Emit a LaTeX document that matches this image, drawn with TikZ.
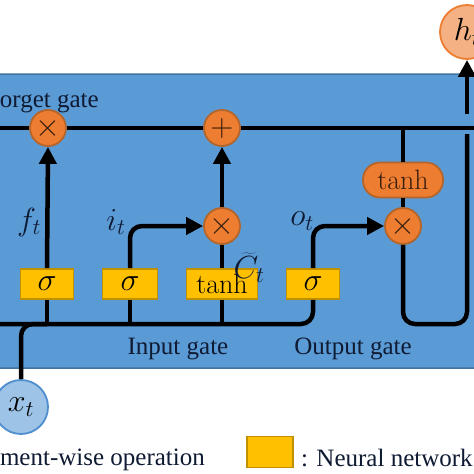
\RequirePackage{fix-cm}
\documentclass[tikz,border=0pt]{standalone}
\usepackage[no-math]{fontspec}
\setmainfont{Liberation Serif}
\usetikzlibrary{arrows.meta}
\definecolor{cellblue}{HTML}{5B9BD5}
\definecolor{cellborder}{HTML}{41719C}
\definecolor{opor}{HTML}{ED7D31}
\definecolor{opborder}{HTML}{B4652A}
\definecolor{opink}{HTML}{3B1F0E}
\definecolor{nngold}{HTML}{FFC000}
\definecolor{nnborder}{HTML}{BF9000}
\definecolor{inblue}{HTML}{9DC3E6}
\definecolor{inborder}{HTML}{4F8FD0}
\definecolor{outor}{HTML}{F4B183}
\definecolor{txtnavy}{HTML}{0F1A33}
\begin{document}
\begin{tikzpicture}[x=1pt,y=-1pt,
  font=\fontsize{25}{30}\selectfont,
  bigm/.style={font=\fontsize{32}{38}\selectfont},
  midm/.style={font=\fontsize{28}{34}\selectfont},
  op/.style={circle, draw=opborder, fill=opor, line width=1.8pt, minimum size=36pt, inner sep=0pt, text=opink},
  nn/.style={rectangle, draw=nnborder, fill=nngold, line width=1.8pt, minimum height=30pt, inner sep=0pt},
  tanhop/.style={rectangle, rounded corners=17pt, draw=opborder, fill=opor, line width=1.8pt, minimum width=80pt, minimum height=35pt, inner sep=0pt, text=opink, midm},
  incirc/.style={circle, draw=inborder, fill=inblue, line width=1.8pt, minimum size=54pt, inner sep=0pt, bigm},
  outcirc/.style={circle, draw=opor, fill=outor, line width=1.8pt, minimum size=54pt, inner sep=0pt, bigm},
  wire/.style={line width=4.5pt, black},
  arr/.style={wire, -{Triangle[width=17pt,length=17pt]}},
  lbl/.style={inner sep=0pt, text=txtnavy},
  rc/.style={rounded corners=12pt}]
\useasboundingbox (0,0) rectangle (474,474);
\clip (0,0) rectangle (474,474);
% cell background
\draw[cellborder, fill=cellblue, line width=1.5pt, rounded corners=20pt] (-30,74) rectangle (520,368);
% nodes
\node[op, bigm] (fx) at (48,128) {$\times$};
\node[op, bigm] (plus) at (222,128) {$+$};
\node[op, bigm] (ix) at (222,226) {$\times$};
\node[op, bigm] (ox) at (403,226) {$\times$};
\node[tanhop] (otanh) at (403,180) {$\tanh$};
\node[nn, minimum width=53pt, bigm] (fsig) at (47,284) {$\sigma$};
\node[nn, minimum width=55pt, bigm] (isig) at (130,284) {$\sigma$};
\node[nn, minimum width=71pt, midm] (itanh) at (222,284) {$\tanh$};
\node[nn, minimum width=53pt, bigm] (osig) at (313,284) {$\sigma$};
\node[incirc] (xt) at (21,407) {$x_t$};
\node[outcirc] (ht) at (467,32) {$h_t$};
% free ends
\coordinate (cin) at (-10,128);
\coordinate (cout) at (500,128);
\coordinate (tb) at (403,128);
\coordinate (hin) at (-10,324);
\coordinate (hb) at (467,324);
\coordinate (hg1) at (467,134);
\coordinate (hg2) at (467,114);
% cell state
\draw[wire] (cin) -- (fx.west);
\draw[wire] (fx.east) -- (plus.west);
\draw[wire] (plus.east) -- (cout);
% inputs
\draw[wire, rc] (hin) -| (osig.south);
\draw[wire, rc] (xt.north) |- (fsig.south |- hin);
\draw[wire] (fsig.south) -- (fsig.south |- hin);
\draw[wire] (isig.south) -- (isig.south |- hin);
\draw[wire] (itanh.south) -- (itanh.south |- hin);
% gates
\draw[arr] (fsig.north) -- (fx.south);
\draw[arr, rc] (isig.north) |- (ix.west);
\draw[wire] (itanh.north) -- (ix.south);
\draw[arr] (ix.north) -- (plus.south);
\draw[arr, rc] (osig.north) |- (ox.west);
\draw[wire] (tb) -- (otanh.north);
\draw[wire] (otanh.south) -- (ox.north);
\draw[wire, rc] (ox.south) |- (hb) -- (hg1);
\draw[arr] (hg2) -- (ht.south);
% labels
\node[lbl, bigm] (ft) at (29,222) {$f_t$};
\node[lbl, bigm] (it) at (116,222) {$i_t$};
\node[lbl, bigm] (ot) at (302,221) {$o_t$};
\node[lbl, bigm] (ct) at (249,268) {$\widetilde{C}_t$};
\node[lbl, anchor=east] (fg) at (99,102) {Forget gate};
\node[lbl] (ig) at (178,349) {Input gate};
\node[lbl] (og) at (353,349) {Output gate};
% legend
\node[lbl, anchor=east] (ew) at (205,459) {Element-wise operation};
\node[nn, minimum width=46pt, minimum height=31pt] (leg) at (270,452) {};
\node[lbl, anchor=west] (nnl) at (301,458) {: Neural network};
\end{tikzpicture}
\end{document}
